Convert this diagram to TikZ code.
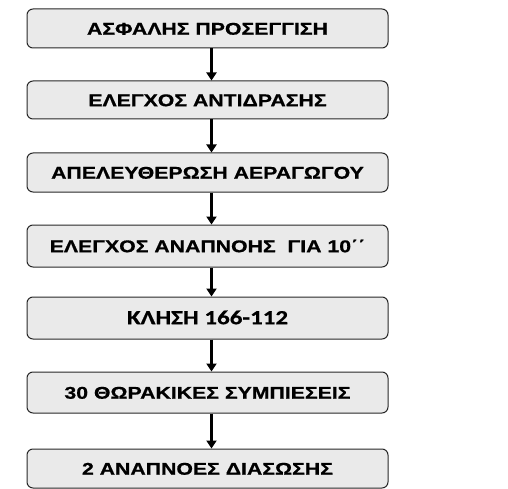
\documentclass[tikz,border=0pt]{standalone}
\usepackage{fontspec}
\setmainfont{Liberation Sans}
\newfontfamily\widefont[FakeStretch=1.25,BoldFeatures={FakeBold=0.8}]{Liberation Sans}
\newfontfamily\calib[FakeStretch=1.25,BoldFeatures={FakeBold=0.6}]{Carlito}
\usetikzlibrary{arrows.meta}
\definecolor{boxfill}{RGB}{234,234,234}
\definecolor{boxline}{RGB}{40,40,40}
\tikzset{
  stepbox/.style={draw=boxline, fill=boxfill, line width=1pt, rounded corners=6pt,
    minimum width=361pt, inner sep=0pt, text height=12.4pt, text depth=0pt,
    font=\widefont\fontsize{17}{19}\selectfont\bfseries},
  flowarrow/.style={line width=3pt, -{Triangle[width=10pt,length=8pt]}}
}
\begin{document}
\begin{tikzpicture}[x=1pt,y=-1pt]
\useasboundingbox (0,0) rectangle (508,489);
\node[stepbox, minimum height=39pt] (b1) at (207.5,28.5) {ΑΣΦΑΛΗΣ ΠΡΟΣΕΓΓΙΣΗ};
\node[stepbox, minimum height=38pt] (b2) at (207.5,100) {ΕΛΕΓΧΟΣ ΑΝΤΙΔΡΑΣΗΣ};
\node[stepbox, minimum height=39pt] (b3) at (207.5,172.5) {ΑΠΕΛΕΥΘΕΡΩΣΗ ΑΕΡΑΓΩΓΟΥ};
\node[stepbox, minimum height=42pt] (b4) at (207.5,246) {ΕΛΕΓΧΟΣ ΑΝΑΠΝΟΗΣ\ \ ΓΙΑ 10΄΄};
\node[stepbox, minimum height=42pt, font=\calib\fontsize{20}{22}\selectfont\bfseries] (b5) at (207.5,318) {ΚΛΗΣΗ 166-112};
\node[stepbox, minimum height=41pt] (b6) at (207.5,392.5) {30 ΘΩΡΑΚΙΚΕΣ ΣΥΜΠΙΕΣΕΙΣ};
\node[stepbox, minimum height=39pt] (b7) at (207.5,468.5) {2 ΑΝΑΠΝΟΕΣ ΔΙΑΣΩΣΗΣ};
\foreach \a/\b in {b1/b2,b2/b3,b3/b4,b4/b5,b5/b6,b6/b7}
  \draw[flowarrow] ([xshift=4pt]\a.south) -- ([xshift=4pt]\b.north);
\end{tikzpicture}
\end{document}
